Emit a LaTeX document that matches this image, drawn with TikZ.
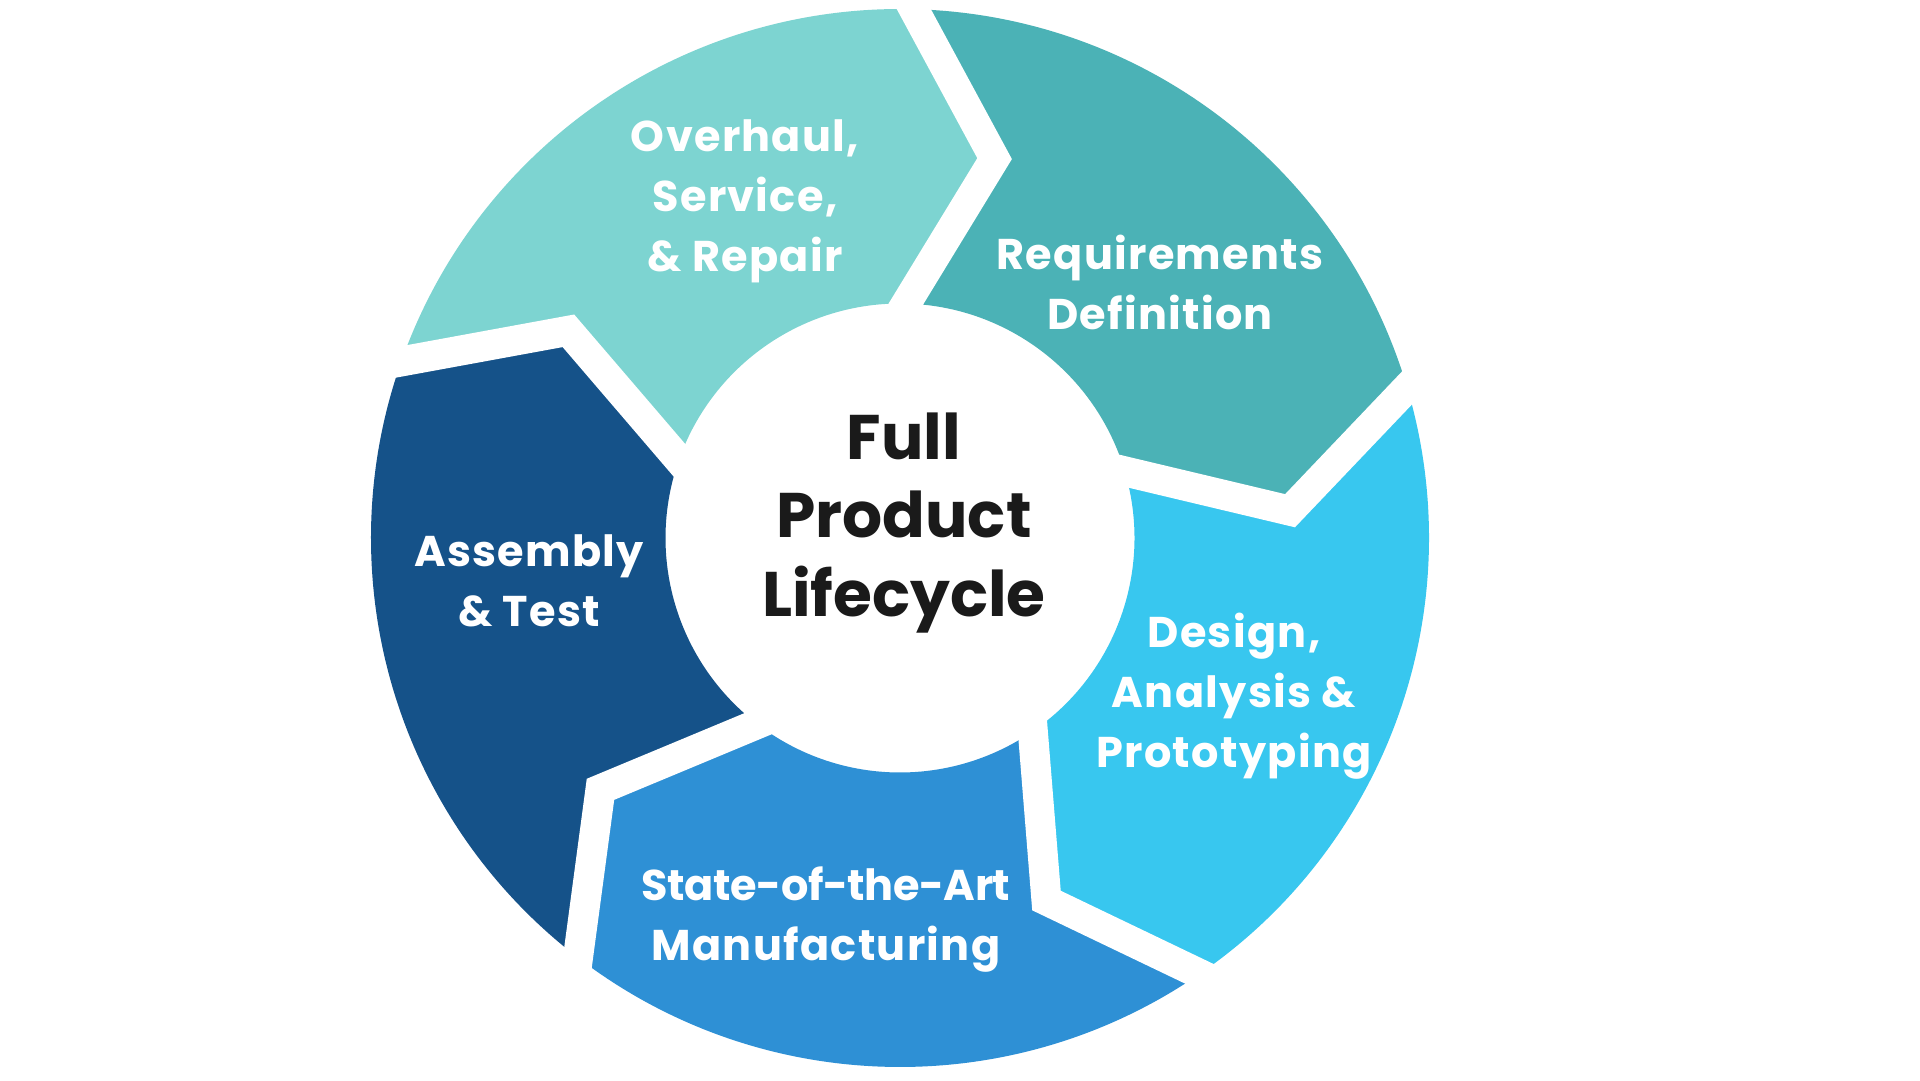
\documentclass[tikz,border=0pt]{standalone}
\usepackage{fontspec}
\setmainfont{Poppins}
\newfontfamily\labfont{Poppins}[LetterSpace=3]
\usetikzlibrary{calc}
\definecolor{cOver}{HTML}{7DD4D1}
\definecolor{cReq}{HTML}{4BB2B6}
\definecolor{cDes}{HTML}{38C7EF}
\definecolor{cMan}{HTML}{2E90D5}
\definecolor{cAsm}{HTML}{155289}
\definecolor{cText}{HTML}{1A1A1A}
\tikzset{
  seglabel/.style={text=white, font=\fontsize{43}{60}\selectfont\labfont\bfseries, align=center, inner sep=0pt},
  centerlabel/.style={text=cText, font=\fontsize{63}{78.5}\selectfont\bfseries, align=center, inner sep=0pt},
  gapline/.style={draw=white, line width=30pt, line join=miter, line cap=butt},
}
\begin{document}
\begin{tikzpicture}[x=1pt,y=1pt]
\useasboundingbox[fill=white] (0,0) rectangle (1920,1080);
\def\Ro{529pt}
\def\Ri{234.5pt}
\coordinate (C) at (900,542);
% boundary chevrons: outer point, tip, inner point
\foreach \k/\a in {1/88.5,2/16.5,3/-55.5,4/-127.5,5/160.5}{
  \coordinate (O\k) at ($(C)+(\a:529pt)$);
  \coordinate (T\k) at ($(C)+(\a-12.5:391pt)$);
  \coordinate (I\k) at ($(C)+(\a:234.5pt)$);
}
% segments
\fill[cOver] (O5) arc[start angle=160.5, end angle=88.5, radius=\Ro] -- (T1) -- (I1)
  arc[start angle=88.5, end angle=160.5, radius=\Ri] -- (T5) -- cycle;
\fill[cReq] (O1) arc[start angle=88.5, end angle=16.5, radius=\Ro] -- (T2) -- (I2)
  arc[start angle=16.5, end angle=88.5, radius=\Ri] -- (T1) -- cycle;
\fill[cDes] (O2) arc[start angle=16.5, end angle=-55.5, radius=\Ro] -- (T3) -- (I3)
  arc[start angle=-55.5, end angle=16.5, radius=\Ri] -- (T2) -- cycle;
\fill[cMan] (O3) arc[start angle=-55.5, end angle=-127.5, radius=\Ro] -- (T4) -- (I4)
  arc[start angle=-127.5, end angle=-55.5, radius=\Ri] -- (T3) -- cycle;
\fill[cAsm] (O4) arc[start angle=-127.5, end angle=-199.5, radius=\Ro] -- (T5) -- (I5)
  arc[start angle=-199.5, end angle=-127.5, radius=\Ri] -- (T4) -- cycle;
% white gaps
\foreach \k in {1,...,5}{
  \draw[gapline] ($(T\k)!1.3!(O\k)$) -- (T\k) -- ($(T\k)!1.3!(I\k)$);
}
% labels
\node[seglabel] (over) at (745,878.5) {Overhaul,\\Service,\\\& Repair};
\node[seglabel] (req) at (1160,797.5) {Requirements\\Definition};
\node[seglabel] (des) at (1234,384) {Design,\\Analysis \&\\Prototyping};
\node[seglabel] (man) at (826,160) {{\addfontfeatures{LetterSpace=-1}State-of-the-Art}\\Manufacturing};
\node[seglabel] (asm) at (529,499.5) {Assembly\\\& Test};
\node[centerlabel] (ctr) at (904,557) {Full\\Product\\Lifecycle};
\end{tikzpicture}
\end{document}
